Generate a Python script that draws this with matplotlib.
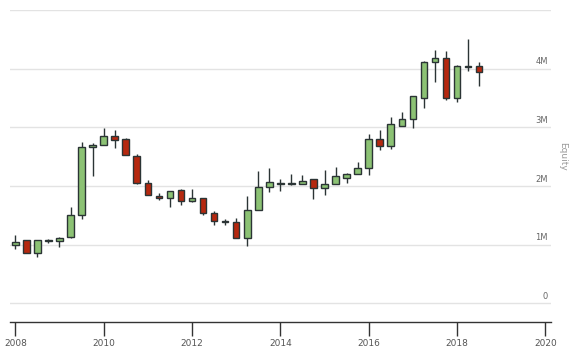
import numpy as np
import matplotlib
matplotlib.use("Agg")
import matplotlib.pyplot as plt

# quarterly candles, values in millions
start_year = 2008
opens = [1.00, 1.08, 0.85, 1.06, 1.06, 1.125, 1.50, 2.66, 2.69, 2.85, 2.80, 2.51, 2.045,
         1.825, 1.79, 1.925, 1.74, 1.79, 1.535, 1.41, 1.385, 1.12, 1.585, 1.98, 2.03, 2.04,
         2.03, 2.115, 1.97, 2.04, 2.14, 2.20, 2.30, 2.795, 2.68, 3.03, 3.135, 3.50, 4.11,
         4.175, 3.495, 4.03, 4.04]
highs = [1.16, 1.08, 1.08, 1.10, 1.13, 1.64, 2.75, 2.73, 2.99, 2.955, 2.82, 2.545, 2.10,
         1.88, 1.91, 1.95, 1.95, 1.79, 1.58, 1.43, 1.455, 1.83, 2.255, 2.31, 2.12, 2.20,
         2.19, 2.115, 2.27, 2.32, 2.22, 2.41, 2.88, 2.955, 3.175, 3.26, 3.53, 4.13, 4.32,
         4.30, 4.06, 4.505, 4.11]
lows = [0.93, 0.85, 0.795, 1.02, 0.965, 1.12, 1.44, 2.175, 2.69, 2.65, 2.52, 2.03, 1.84,
        1.755, 1.65, 1.68, 1.73, 1.51, 1.34, 1.34, 1.12, 0.98, 1.585, 1.90, 1.92, 2.02,
        2.03, 1.77, 1.85, 2.04, 2.055, 2.20, 2.19, 2.62, 2.635, 3.03, 2.995, 3.335, 3.78,
        3.46, 3.43, 3.955, 3.71]
closes = [1.05, 0.85, 1.08, 1.085, 1.11, 1.50, 2.66, 2.69, 2.86, 2.78, 2.52, 2.045, 1.84,
          1.79, 1.91, 1.74, 1.79, 1.535, 1.40, 1.39, 1.12, 1.585, 1.98, 2.06, 2.05, 2.05,
          2.08, 1.97, 2.03, 2.165, 2.20, 2.30, 2.795, 2.68, 3.05, 3.135, 3.53, 4.11, 4.175,
          3.495, 4.04, 4.04, 3.94]
y_ticks = [0, 1, 2, 3, 4]
y_labels = ["0", "1M", "2M", "3M", "4M"]
x_ticks = [2008, 2010, 2012, 2014, 2016, 2018, 2020]

up_color = "#8cc274"
down_color = "#b5280f"
edge = "#2b3435"

o = np.array(opens)
h = np.array(highs)
l = np.array(lows)
c = np.array(closes)
x = start_year + 0.25 * np.arange(len(o))

fig = plt.figure(figsize=(5.8, 3.6), dpi=100)
ax = fig.add_axes([10 / 580, 1 - 322 / 360, 540.7 / 580, 312 / 360])

for yv in [0, 1, 2, 3, 4, 5]:
    ax.axhline(yv, color="#e3e3e3", lw=1, zorder=0)

colors = np.where(c >= o, up_color, down_color)
ax.vlines(x, l, h, color=edge, lw=1, zorder=2)
ax.bar(x, np.maximum(np.abs(c - o), 0.01), bottom=np.minimum(o, c), width=0.15,
       color=colors, edgecolor=edge, linewidth=1, zorder=3)

for yv, lab in zip(y_ticks, y_labels):
    ax.text(0.995, yv + 0.04, lab, transform=ax.get_yaxis_transform(), ha="right",
            va="bottom", fontsize=6, color="#666666")
fig.text(563 / 580, 1 - 156 / 360, "Equity", rotation=270, ha="center", va="center",
         fontsize=6.5, color="#999999")

ax.set_xlim(2007.88, 2020.12)
ax.set_ylim(-0.319, 5.0)
ax.set_yticks([])
ax.set_xticks(x_ticks)
ax.set_xticklabels([str(t) for t in x_ticks], fontsize=6.5, color="#555555")
ax.tick_params(axis="x", length=10, width=1, color="#333333", pad=2)
for s in ["top", "left", "right"]:
    ax.spines[s].set_visible(False)
ax.spines["bottom"].set_color("#333333")
ax.spines["bottom"].set_linewidth(1)

fig.savefig("out.png", dpi=100)
